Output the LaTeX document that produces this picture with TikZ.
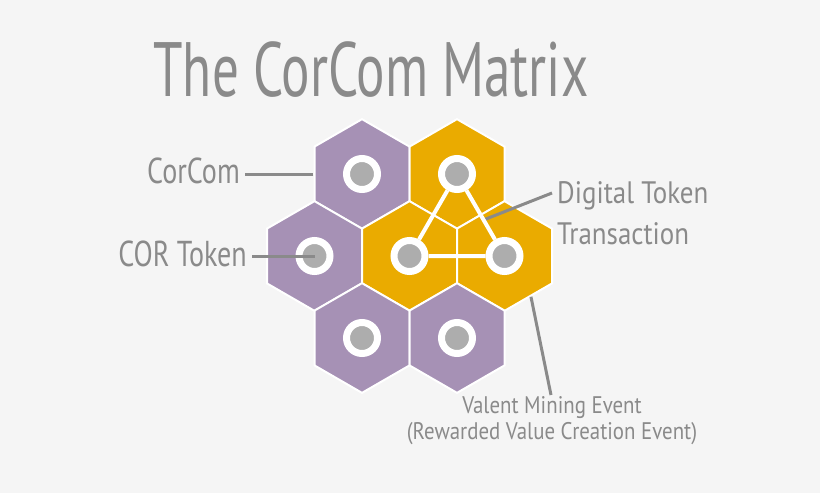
\documentclass[tikz,border=0pt]{standalone}
\usepackage{fontspec}
\setmainfont{PT Sans}
\usetikzlibrary{shapes.geometric,calc}

\definecolor{bggray}{HTML}{F5F5F5}
\definecolor{textgray}{HTML}{8A8A8A}
\definecolor{ringgray}{HTML}{ADADAD}
\definecolor{corpurple}{HTML}{A691B5}
\definecolor{corgold}{HTML}{EAAB00}

\newcommand{\cond}[2][0.78]{\scalebox{#1}[1]{#2}}

\tikzset{hexcell/.style={
    	regular polygon, regular polygon sides=6, shape border rotate=30,
    	minimum size=109.7pt, inner sep=0pt, fill=#1, draw=white, line width=2pt
  	},
  	ring/.style={circle, fill=ringgray, draw=white, line width=7pt, minimum size=31pt, inner sep=0pt},
  	leader/.style={draw=textgray, line width=3pt},
  	lbl/.style={text=textgray, inner xsep=5pt, inner ysep=0pt}
}

\begin{document}
\begin{tikzpicture}[x=1pt, y=-1pt]
  		\fill [bggray] (0,0) rectangle (820,493);
  		\useasboundingbox (0,0) rectangle (820,493);
		\node [lbl, anchor=base, font=\fontsize{77}{80}\selectfont] (title) at (371,96) {\cond[0.69]{The CorCom Matrix}};
		% cells of the matrix
		\foreach \n/\x/\y/\col in {a/362/174/corpurple, b/457/174/corgold, d/314.5/256/corpurple, c/409.5/256/corgold, e/504.5/256/corgold, f/362/338/corpurple, g/457/338/corpurple}
		{
			\node [hexcell=\col] (h\n) at (\x,\y) {};
			\node [ring] (r\n) at (\x,\y) {};
		}
		% labels
		\node [lbl, anchor=base east, font=\fontsize{36}{40}\selectfont] (corcom) at (245,183) {\cond{CorCom}};
		\node [lbl, anchor=base east, font=\fontsize{36}{40}\selectfont] (cortoken) at (252,266) {\cond{COR Token}};
		\node [lbl, anchor=north west, align=left, font=\fontsize{31}{41}\selectfont] (dtoken) at (552,181) {\cond[0.87]{Digital Token}\\\cond[0.87]{Transaction}};
		\node [lbl, anchor=north, align=center, font=\fontsize{24}{26}\selectfont] (valent) at (552,396) {\cond[0.87]{Valent Mining Event}\\\cond[0.87]{(Rewarded Value Creation Event)}};
		\coordinate (dtip) at ($(rb)!0.56!(re)$);
		\draw [leader] (ha.west) -- (ha.west -| corcom.east);
		\draw [leader] (cortoken.east |- rd) -- (rd.center);
		\draw [leader] (dtip) -- ($(dtoken.north west)+(0,12)$);
		\draw [leader] (he.-57) -- ($(valent.north)+(-1,-1)$);
		% the transaction triangle
		\draw [white, line width=4pt] (rb) -- (rc) -- (re) -- (rb);
	\end{tikzpicture}
\end{document}
